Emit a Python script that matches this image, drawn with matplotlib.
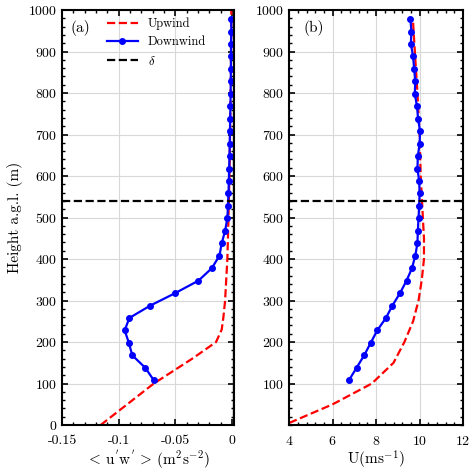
import numpy as np
import matplotlib
matplotlib.use("Agg")
import matplotlib.pyplot as plt
from matplotlib.ticker import AutoMinorLocator

plt.rcParams['font.family'] = 'serif'
plt.rcParams['font.serif'] = ['cmr10', 'DejaVu Serif']
plt.rcParams['mathtext.fontset'] = 'cm'
plt.rcParams['axes.formatter.use_mathtext'] = True

h_down = np.arange(108, 979, 30)
uw_down = [-0.069, -0.0765, -0.088, -0.091, -0.0947, -0.0906, -0.072, -0.05, -0.0295, -0.0177,
           -0.011, -0.009, -0.006, -0.004, -0.0035, -0.003, -0.0027, -0.0024, -0.0021, -0.0019,
           -0.0017, -0.0015, -0.0013, -0.0011, -0.001, -0.0009, -0.0008, -0.0007, -0.0006, -0.0005]
u_down = [6.75, 7.1, 7.45, 7.75, 8.05, 8.45, 8.75, 9.1, 9.4, 9.65, 9.8, 9.9, 9.92, 9.95, 9.98,
          10.0, 9.98, 9.9, 9.92, 10.0, 10.02, 9.93, 9.88, 9.78, 9.8, 9.75, 9.7, 9.6, 9.62, 9.58]

h_up_uw = [0, 100, 160, 200, 230, 260, 300, 400, 500, 600, 700, 800, 900, 1000]
uw_up = [-0.116, -0.069, -0.035, -0.014, -0.009, -0.0075, -0.006, -0.004, -0.003, -0.0022, -0.0016, -0.0012, -0.0008, -0.0005]
h_up_u = [5, 50, 100, 150, 200, 250, 300, 350, 400, 450, 500, 550, 600, 700, 800, 900, 970]
u_up = [4.0, 6.0, 7.8, 8.8, 9.3, 9.7, 9.95, 10.1, 10.2, 10.2, 10.15, 10.1, 10.05, 10.0, 9.9, 9.78, 9.7]
delta = 540

fig = plt.figure(figsize=(4.74, 4.76), dpi=100)
ax1 = fig.add_axes([0.131, 0.107, 0.363, 0.872])
ax2 = fig.add_axes([0.610, 0.107, 0.367, 0.872])

ax1.plot(uw_up, h_up_uw, 'r--', lw=1.6, label='Upwind')
ax1.plot(uw_down, h_down, 'b-o', lw=1.6, ms=4, label='Downwind')
ax1.axhline(delta, color='k', ls='--', lw=1.6, label=r'$\delta$')
ax2.plot(u_up, h_up_u, 'r--', lw=1.6)
ax2.plot(u_down, h_down, 'b-o', lw=1.6, ms=4)
ax2.axhline(delta, color='k', ls='--', lw=1.6)

ax1.set_xlim(-0.15, 0.002)
ax1.set_xticks([-0.15, -0.1, -0.05, 0])
ax1.set_xticklabels(['-0.15', '-0.1', '-0.05', '0'])
ax2.set_xlim(4, 12)
ax2.set_xticks([4, 6, 8, 10, 12])
for ax in (ax1, ax2):
    ax.set_ylim(0, 1000)
    ax.set_yticks(range(0, 1001, 100))
    ax.grid(True, color='#d8d8d8', lw=0.8)
    ax.xaxis.set_minor_locator(AutoMinorLocator(5))
    ax.yaxis.set_minor_locator(AutoMinorLocator(5))
    ax.tick_params(which='both', direction='in', top=True, right=True, labelsize=10)
    ax.tick_params(which='major', length=4, width=1.2)
    ax.tick_params(which='minor', length=2.5, width=1)
    ax.tick_params(axis='x', which='major', pad=7)
    for s in ax.spines.values():
        s.set_linewidth(1.5)
ax2.set_yticks(range(100, 1001, 100))
ax1.set_ylabel('Height a.g.l. (m)', fontsize=11)
ax1.set_xlabel(r"$<\,\mathrm{u}^{'}\mathrm{w}^{'}\,>\,(\mathrm{m}^2\mathrm{s}^{-2})$", fontsize=11, labelpad=1)
ax2.set_xlabel(r"$\mathrm{U}(\mathrm{ms}^{-1})$", fontsize=11, labelpad=1)
ax1.text(0.05, 0.975, '(a)', transform=ax1.transAxes, va='top', fontsize=11)
ax2.text(0.08, 0.975, '(b)', transform=ax2.transAxes, va='top', fontsize=11)
ax1.legend(loc='upper right', bbox_to_anchor=(0.88, 1.0), frameon=False, fontsize=9,
           handlelength=2.5, borderaxespad=0.2)

fig.savefig('out.png', dpi=100)
